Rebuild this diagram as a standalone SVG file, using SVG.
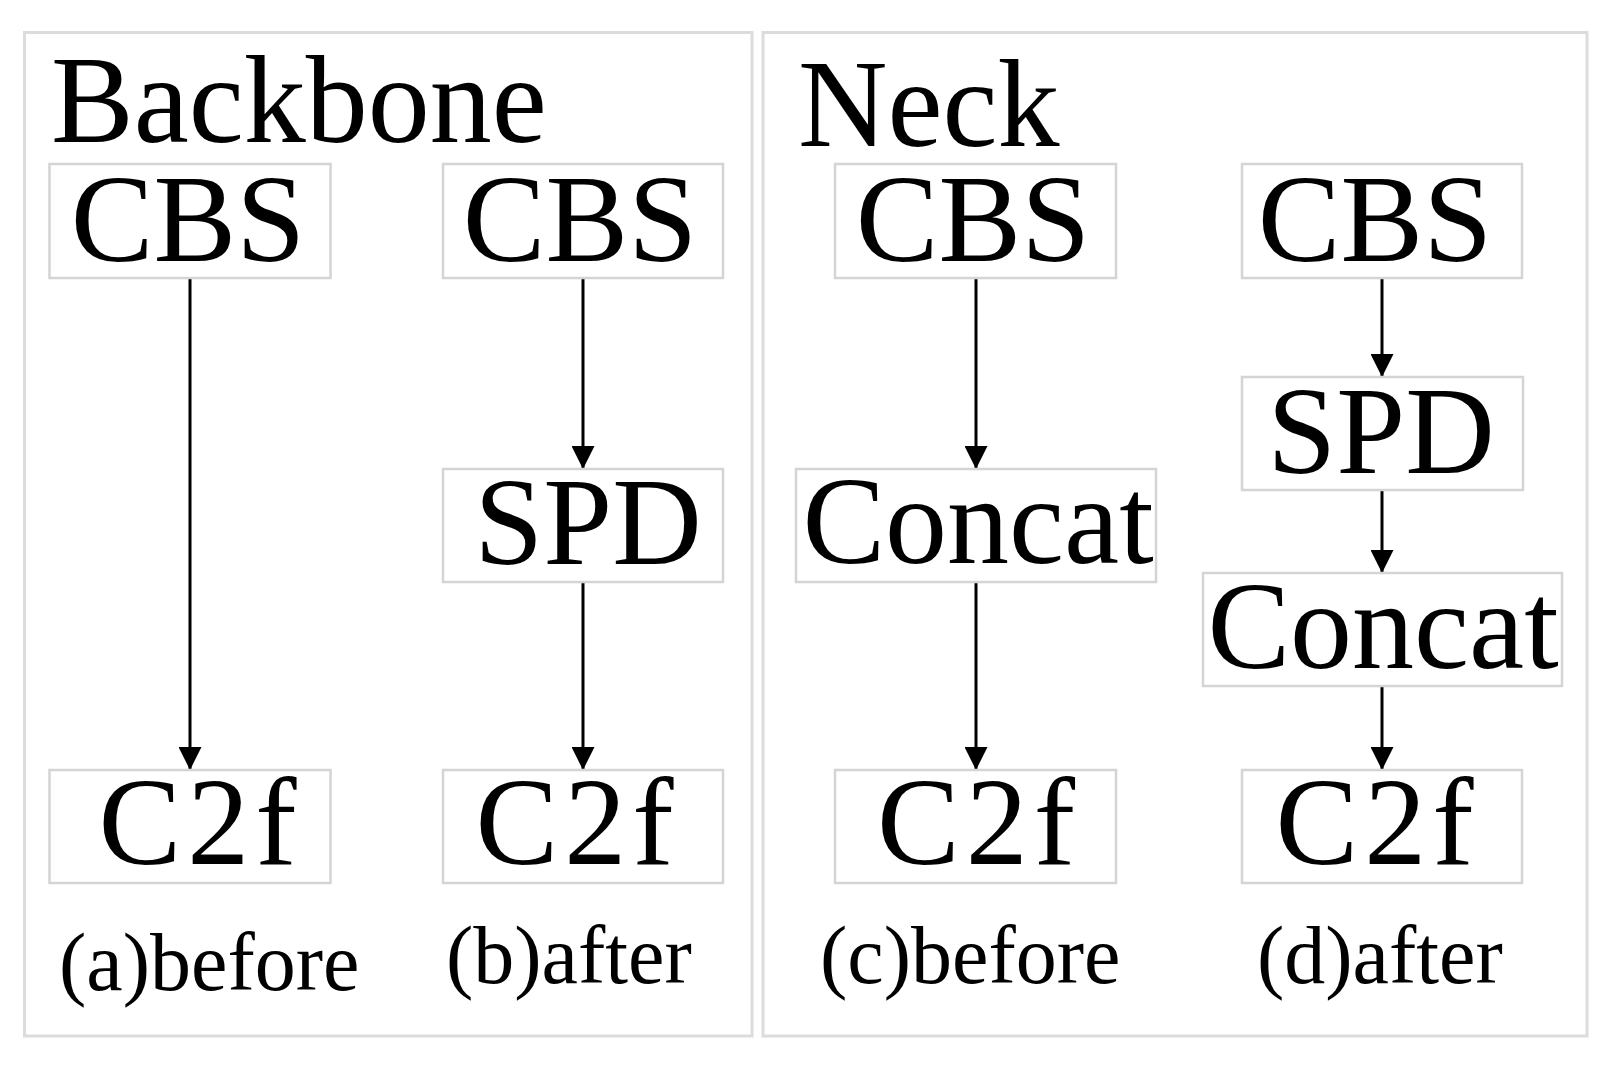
<svg xmlns="http://www.w3.org/2000/svg" width="1615" height="1066" viewBox="0 0 1615 1066">
<defs>
<style>
.panel{fill:#fff;stroke:#dcdcdc;stroke-width:3}
.box{fill:#fff;stroke:#d4d4d4;stroke-width:2.5}
.t{font-family:"Liberation Serif","Times New Roman",serif;fill:#000}
.big{font-size:124px}
.lbl{font-size:82px}
.mid{text-anchor:middle}
.wide{letter-spacing:6px}
.conn{stroke:#000;stroke-width:3;fill:none;marker-end:url(#arr)}
</style>
<marker id="arr" markerUnits="userSpaceOnUse" markerWidth="23" markerHeight="23" refX="23" refY="11.5" orient="auto" viewBox="0 0 23 23">
<path d="M0,0 L23,11.5 L0,23 Z" fill="#000"/>
</marker>
</defs>
<rect width="1615" height="1066" fill="#fff"/>
<g id="panel-backbone">
<rect class="panel" x="24.5" y="32.5" width="727.5" height="1003.5"/>
<text class="t big" x="51" y="142">Backbone</text>
</g>
<g id="panel-neck">
<rect class="panel" x="763" y="32.5" width="824" height="1003.5"/>
<text class="t big" x="798" y="146">Neck</text>
</g>
<g id="connectors">
<line class="conn" x1="190" y1="278" x2="190" y2="770"/>
<line class="conn" x1="583" y1="278" x2="583" y2="469"/>
<line class="conn" x1="583" y1="582" x2="583" y2="770"/>
<line class="conn" x1="976" y1="278" x2="976" y2="469"/>
<line class="conn" x1="976" y1="582" x2="976" y2="770"/>
<line class="conn" x1="1382" y1="278" x2="1382" y2="377"/>
<line class="conn" x1="1382" y1="490" x2="1382" y2="573"/>
<line class="conn" x1="1382" y1="686" x2="1382" y2="770"/>
</g>
<g id="a-cbs"><rect class="box" x="49.5" y="164" width="281" height="114"/><text class="t big mid" x="188" y="261">CBS</text></g>
<g id="a-c2f"><rect class="box" x="49.5" y="770" width="281" height="113"/><text class="t big mid wide" x="200.5" y="864">C2f</text></g>
<g id="b-cbs"><rect class="box" x="443" y="164" width="280" height="114"/><text class="t big mid" x="580" y="261">CBS</text></g>
<g id="b-spd"><rect class="box" x="443" y="469" width="280" height="113"/><text class="t big mid" x="588" y="564">SPD</text></g>
<g id="b-c2f"><rect class="box" x="443" y="770" width="280" height="113"/><text class="t big mid wide" x="577.5" y="864">C2f</text></g>
<g id="c-cbs"><rect class="box" x="835" y="164" width="281" height="114"/><text class="t big mid" x="973" y="261">CBS</text></g>
<g id="c-concat"><rect class="box" x="796" y="469" width="360" height="113"/><text class="t big mid" x="978" y="563">Concat</text></g>
<g id="c-c2f"><rect class="box" x="835" y="770" width="281" height="113"/><text class="t big mid wide" x="979" y="864">C2f</text></g>
<g id="d-cbs"><rect class="box" x="1242" y="164" width="280" height="114"/><text class="t big mid" x="1375" y="261">CBS</text></g>
<g id="d-spd"><rect class="box" x="1242" y="377" width="281" height="113"/><text class="t big mid" x="1381" y="473">SPD</text></g>
<g id="d-concat"><rect class="box" x="1203" y="573" width="359" height="113"/><text class="t big mid" x="1383" y="668">Concat</text></g>
<g id="d-c2f"><rect class="box" x="1242" y="770" width="280" height="113"/><text class="t big mid wide" x="1377.5" y="864">C2f</text></g>
<g id="captions">
<text class="t lbl" x="59" y="990">(a)before</text>
<text class="t lbl" x="446" y="983">(b)after</text>
<text class="t lbl" x="820" y="983">(c)before</text>
<text class="t lbl" x="1257" y="983">(d)after</text>
</g>
</svg>
